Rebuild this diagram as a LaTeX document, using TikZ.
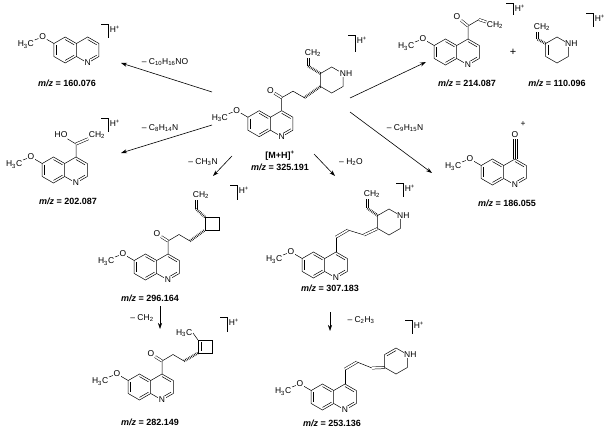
\documentclass[tikz,border=0pt]{standalone}
\usepackage{fontspec}
\setmainfont{Liberation Sans}
\usetikzlibrary{arrows.meta, calc}

\tikzset{
  lbl/.style={font=\fontsize{8.5}{9}\selectfont, inner sep=0.6pt},
  atom/.style={lbl, fill=white},
  mz/.style={font=\bfseries\fontsize{9}{10}\selectfont, inner sep=0pt},
  dbl/.style={double, double distance=1.7pt},
  hash/.style={line width=2.6pt, dash pattern=on 0.6pt off 1.1pt},
  rxn/.style={-{Stealth[length=6pt,width=4pt]}, line width=0.6pt},
  quin/.pic={
    \coordinate (-c4) at (0,0);
    \coordinate (-c3) at (11.26,6.5);
    \coordinate (-c2) at (11.26,19.5);
    \coordinate (-n) at (0,26);
    \coordinate (-c8a) at (-11.26,19.5);
    \coordinate (-c4a) at (-11.26,6.5);
    \coordinate (-c5) at (-22.52,0);
    \coordinate (-c6) at (-33.78,6.5);
    \coordinate (-c7) at (-33.78,19.5);
    \coordinate (-c8) at (-22.52,26);
    \draw (-c4) -- (-c3) -- (-c2) -- (-n) -- (-c8a) -- (-c4a) -- cycle;
    \draw (-c4a) -- (-c5) -- (-c6) -- (-c7) -- (-c8) -- (-c8a);
    % inner lines
    \draw (0,2.6) -- (9.01,7.8);
    \draw (0,23.4) -- (9.01,18.2);
    \draw (-13.51,7.8) -- (-22.52,2.6);
    \draw (-31.53,7.8) -- (-31.53,18.2);
    \draw (-22.52,23.4) -- (-13.51,18.2);
    \node[atom] (-nl) at (-n) {N};
    \node[atom] (-o) at (-45.03,0) {O};
    \node[lbl, anchor=east] (-me) at (-53,7.5) {H\textsubscript{3}C};
    \draw (-c6) -- (-o) -- (-me.north east);
  }
}
\newcommand\hbr[3]{%
  \draw ({#1-7},#2) -- (#1,#2) -- (#1,#3);
  \node[lbl, anchor=west] at ({#1+1},{#2+5}) {H\textsuperscript{+}};}
% vinyl end: two vertical strokes from a carbon up to its CH2 label
\newcommand\vinyl[2]{%
  \draw ($(#1)+(-1,0)$) -- ($(#1 |- #2.south)+(-1,0)$);
  \draw ($(#1)+(1,0)$) -- ($(#1 |- #2.south)+(1,0)$);}

\begin{document}
\begin{tikzpicture}[x=1pt, y=-1pt, line width=0.5pt]
\useasboundingbox (0,0) rectangle (610,431);

% m/z 160
\pic (a) at (87.7,37) {quin};
\node[mz] at (67,83) {\textit{m/z} = 160.076};
\hbr{108}{24}{38}

% m/z 202
\pic (b) at (76,157) {quin};
\coordinate (b1) at (76,144);
\node[lbl] (bho) at (61,135) {HO};
\node[lbl] (bch) at (97,135) {CH\textsubscript{2}};
\draw (b-c4) -- (b1) -- (bho);
\draw[dbl] (b1) -- (bch);
\node[mz] at (68,201) {\textit{m/z} = 202.087};
\hbr{108}{118}{132}

% [M+H]+ 325
\pic (m) at (281.7,110.7) {quin};
\coordinate (mco) at (281.7,97.7);
\node[atom] (mo) at (270.4,90.7) {O};
\coordinate (mca) at (293,91.2);
\coordinate (mcb) at (304.3,97.7);
\coordinate (p4) at (320.4,86.5);
\coordinate (p3) at (320.4,73.5);
\coordinate (p2) at (331.7,67);
\coordinate (pn) at (343,73.5);
\coordinate (p6) at (343,86.5);
\coordinate (p5) at (331.7,93);
\coordinate (pv) at (308,66);
\node[lbl] (pch) at (313,53) {CH\textsubscript{2}};
\draw (m-c4) -- (mco) -- (mca) -- (mcb);
\draw[dbl] (mco) -- (mo);
\draw[hash] (mcb) -- (p4);
\draw (p4) -- (p3) -- (p2) -- (pn) -- (p6) -- (p5) -- cycle;
\node[atom] at ($(pn)+(3,0)$) {NH};
\draw[hash] (p3) -- (pv);
\vinyl{pv}{pch}
\node[mz] at (280,156) {[M+H]\textsuperscript{+}};
\node[mz] at (280,167) {\textit{m/z} = 325.191};
\hbr{355}{35}{52}

% m/z 214
\pic (g) at (468,39) {quin};
\coordinate (g1) at (468,26);
\node[atom] (go) at (457,17) {O};
\coordinate (g2) at (479,19.5);
\node[lbl] (gch) at (495,25) {CH\textsubscript{2}};
\draw (g-c4) -- (g1) -- (g2);
\draw[dbl] (g1) -- (go);
\draw[dbl] (g2) -- (gch);
\node[mz] at (467,83) {\textit{m/z} = 214.087};
\hbr{513}{3}{15}
\node[font=\fontsize{11}{11}\selectfont] at (513,52) {+};

% m/z 110
\coordinate (k3) at (545.7,43.5);
\coordinate (k2) at (557,37);
\coordinate (kn) at (568.3,43.5);
\coordinate (k6) at (568.3,56.5);
\coordinate (k5) at (557,63);
\coordinate (k4) at (545.7,56.5);
\draw (k3) -- (k2) -- (kn) -- (k6) -- (k5) -- (k4) -- cycle;
\draw ($(k3)!0.2!(557,50)$) -- ($(k4)!0.2!(557,50)$);
\node[atom] at ($(kn)+(3,0)$) {NH};
\coordinate (kv) at (537,39);
\node[lbl] (kch) at (542,27) {CH\textsubscript{2}};
\draw[hash] (k3) -- (kv);
\vinyl{kv}{kch}
\node[mz] at (557,83) {\textit{m/z} = 110.096};
\hbr{593}{13}{27}

% m/z 186
\pic (h) at (515,159) {quin};
\node[lbl] (ho) at (515,135) {O};
\node[lbl] at (523,124) {+};
\draw (h-c4) -- (ho);
\draw ($(h-c4)+(-2,0)$) -- ($(ho.south)+(-2,0)$);
\draw ($(h-c4)+(2,0)$) -- ($(ho.south)+(2,0)$);
\node[mz] at (507,203) {\textit{m/z} = 186.055};

% m/z 296
\pic (c) at (168,254) {quin};
\coordinate (cco) at (168,241);
\node[atom] (co) at (157,234) {O};
\coordinate (cca) at (179,234.5);
\coordinate (ccb) at (190,241);
\coordinate (s1) at (205,230);
\coordinate (s2) at (205,217);
\coordinate (s3) at (219,217);
\coordinate (s4) at (219,230);
\coordinate (cv) at (196,209);
\node[lbl] (cch) at (201,195) {CH\textsubscript{2}};
\draw (c-c4) -- (cco) -- (cca) -- (ccb);
\draw[dbl] (cco) -- (co);
\draw[hash] (ccb) -- (s1);
\draw (s1) -- (s2) -- (s3) -- (s4) -- cycle;
\draw[hash] (s2) -- (cv);
\vinyl{cv}{cch}
\node[mz] at (150,298) {\textit{m/z} = 296.164};
\hbr{237}{185}{200}

% m/z 282
\pic (d) at (162,374) {quin};
\coordinate (dco) at (162,361);
\node[atom] (do) at (151,354) {O};
\coordinate (dca) at (173,354.5);
\coordinate (dcb) at (184,361);
\coordinate (t1) at (198,353);
\coordinate (t2) at (198,340);
\coordinate (t3) at (212,340);
\coordinate (t4) at (212,353);
\node[lbl, anchor=east] (dme) at (193,333) {H\textsubscript{3}C};
\draw (d-c4) -- (dco) -- (dca) -- (dcb);
\draw[dbl] (dco) -- (do);
\draw[hash] (dcb) -- (t1);
\draw (t1) -- (t2) -- (t3) -- (t4) -- cycle;
\draw (200.8,342) -- (200.8,351);
\draw (t2) -- (dme.east);
\node[mz] at (150,422) {\textit{m/z} = 282.149};
\hbr{227}{317}{332}

% m/z 307
\pic (e) at (336,252) {quin};
\coordinate (e1) at (336,237);
\coordinate (e2) at (348,230);
\coordinate (e3) at (364,235);
\coordinate (r4) at (377.7,228.5);
\coordinate (r3) at (377.7,215.5);
\coordinate (r2) at (389,209);
\coordinate (rn) at (400.3,215.5);
\coordinate (r6) at (400.3,228.5);
\coordinate (r5) at (389,235);
\coordinate (rv) at (367,208);
\node[lbl] (rch) at (372,194) {CH\textsubscript{2}};
\draw (e-c4) -- (e1);
\draw[dbl] (e1) -- (e2);
\draw (e2) -- (e3);
\draw[dbl] (e3) -- (r4);
\draw (r4) -- (r3) -- (r2) -- (rn) -- (r6) -- (r5) -- cycle;
\node[atom] at ($(rn)+(3,0)$) {NH};
\draw[hash] (r3) -- (rv);
\vinyl{rv}{rch}
\node[mz] at (330,288) {\textit{m/z} = 307.183};
\hbr{403}{183}{197}

% m/z 253
\pic (f) at (345,384) {quin};
\coordinate (f1) at (345,369);
\coordinate (f2) at (357,362);
\coordinate (f3) at (372,368);
\coordinate (u4) at (384.7,367.5);
\coordinate (u3) at (384.7,354.5);
\coordinate (u2) at (396,348);
\coordinate (un) at (407.3,354.5);
\coordinate (u6) at (407.3,367.5);
\coordinate (u5) at (396,374);
\draw (f-c4) -- (f1);
\draw[dbl] (f1) -- (f2);
\draw (f2) -- (f3);
\draw[dbl] (f3) -- (u4);
\draw (u4) -- (u3) -- (u2) -- (un) -- (u6) -- (u5) -- cycle;
\draw ($(u3)!0.2!(396,361)$) -- ($(u2)!0.2!(396,361)$);
\node[atom] at ($(un)+(3,0)$) {NH};
\node[mz] at (332,423) {\textit{m/z} = 253.136};
\hbr{412}{320}{334}

% reaction arrows
\coordinate (a1s) at (212,92);  \coordinate (a1e) at (121,63);
\coordinate (a2s) at (212,125); \coordinate (a2e) at (121,153);
\coordinate (a3s) at (350,98);  \coordinate (a3e) at (426,62);
\coordinate (a4s) at (350,112); \coordinate (a4e) at (432,173);
\coordinate (a5s) at (232,156); \coordinate (a5e) at (213,176);
\coordinate (a6s) at (314,154); \coordinate (a6e) at (335,176);
\coordinate (a7s) at (160,306); \coordinate (a7e) at (160,329);
\coordinate (a8s) at (330,312); \coordinate (a8e) at (330,331);
\draw[rxn] (a1s) -- (a1e);
\draw[rxn] (a2s) -- (a2e);
\draw[rxn] (a3s) -- (a3e);
\draw[rxn] (a4s) -- (a4e);
\draw[rxn] (a5s) -- (a5e);
\draw[rxn] (a6s) -- (a6e);
\draw[rxn] (a7s) -- (a7e);
\draw[rxn] (a8s) -- (a8e);
\node[lbl] at (165,62) {– C\textsubscript{10}H\textsubscript{16}NO};
\node[lbl] at (160,128) {– C\textsubscript{8}H\textsubscript{14}N};
\node[lbl] at (405,128) {– C\textsubscript{9}H\textsubscript{15}N};
\node[lbl] at (203,162) {– CH\textsubscript{3}N};
\node[lbl] at (351,162) {– H\textsubscript{2}O};
\node[lbl] at (142,318) {– CH\textsubscript{2}};
\node[lbl] at (361,320) {– C\textsubscript{2}H\textsubscript{3}};
\end{tikzpicture}
\end{document}
